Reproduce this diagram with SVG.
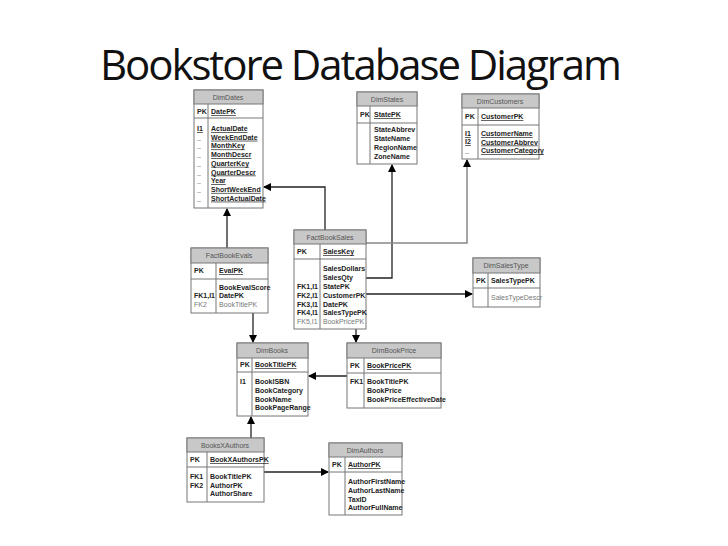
<svg xmlns="http://www.w3.org/2000/svg" width="728" height="546" viewBox="0 0 728 546">
<style>
.box{fill:#fff;stroke:#777;stroke-width:1}
.hd{fill:#c8c8c8;stroke:#777;stroke-width:1}
.ln{stroke:#777;stroke-width:1}
text{font-family:"Liberation Sans",Arial,sans-serif;font-size:7px}
.h{fill:#555;text-anchor:middle}
.b{font-weight:bold;fill:#222}
.g{fill:#777}
.u{text-decoration:underline}
.c{fill:none;stroke:#222;stroke-width:1.3}
.cg{fill:none;stroke:#888;stroke-width:1.5}
</style>
<defs>
<marker id="a" markerWidth="8" markerHeight="8" refX="7" refY="4" orient="auto" markerUnits="userSpaceOnUse"><path d="M0,0 L8,4 L0,8 z" fill="#000"/></marker>
</defs>
<rect width="728" height="546" fill="#fff"/>
<text x="100" y="80" style="font-family:'Open Sans','Liberation Sans',sans-serif;font-size:42px" textLength="522" fill="#111">Bookstore Database Diagram</text>

<g id="connectors">
<path class="c" d="M325,230 V187 H264" marker-end="url(#a)"/>
<path class="c" d="M366,278 H392 V165" marker-end="url(#a)"/>
<path class="cg" d="M366,243 H467 V160" marker-end="url(#a)"/>
<path class="c" d="M366,294 H472" marker-end="url(#a)"/>
<path class="c" d="M227,248 V209" marker-end="url(#a)"/>
<path class="c" d="M253,313 V342" marker-end="url(#a)"/>
<path class="c" d="M356,329 V342" marker-end="url(#a)"/>
<path class="c" d="M347,376 H309" marker-end="url(#a)"/>
<path class="c" d="M251,438 V417" marker-end="url(#a)"/>
<path class="c" d="M264,472 H328" marker-end="url(#a)"/>
</g>

<g id="DimDates">
<rect class="box" x="194" y="90" width="69" height="118"/><rect class="hd" x="194" y="90" width="69" height="14"/>
<line class="ln" x1="194" y1="118" x2="263" y2="118"/><line class="ln" x1="208" y1="104" x2="208" y2="208"/>
<text class="h" x="228" y="99.5">DimDates</text>
<text class="b" x="197" y="114">PK</text><text class="b u" x="211" y="114">DatePK</text>
<text class="b u" x="197" y="131">I1</text>
<text class="b u"><tspan x="211" y="131">ActualDate</tspan><tspan x="211" y="139.7">WeekEndDate</tspan><tspan x="211" y="148.4">MonthKey</tspan><tspan x="211" y="157.1">MonthDescr</tspan><tspan x="211" y="165.8">QuarterKey</tspan><tspan x="211" y="174.5">QuarterDescr</tspan><tspan x="211" y="183.2">Year</tspan><tspan x="211" y="191.9">ShortWeekEnd</tspan><tspan x="211" y="200.6">ShortActualDate</tspan></text>
<text class="b"><tspan x="197" y="139.7">_</tspan><tspan x="197" y="148.4">_</tspan><tspan x="197" y="157.1">_</tspan><tspan x="197" y="165.8">_</tspan><tspan x="197" y="174.5">_</tspan><tspan x="197" y="183.2">_</tspan><tspan x="197" y="191.9">_</tspan><tspan x="197" y="200.6">_</tspan></text>
</g>

<g id="DimStates">
<rect class="box" x="357" y="92" width="60" height="72"/><rect class="hd" x="357" y="92" width="60" height="14"/>
<line class="ln" x1="357" y1="123" x2="417" y2="123"/><line class="ln" x1="370" y1="106" x2="370" y2="164"/>
<text class="h" x="387" y="101.5">DimStates</text>
<text class="b" x="360" y="117">PK</text><text class="b u" x="374" y="117">StatePK</text>
<text class="b"><tspan x="374" y="132">StateAbbrev</tspan><tspan x="374" y="141">StateName</tspan><tspan x="374" y="150">RegionName</tspan><tspan x="374" y="159">ZoneName</tspan></text>
</g>

<g id="DimCustomers">
<rect class="box" x="462" y="94" width="77" height="65"/><rect class="hd" x="462" y="94" width="77" height="14"/>
<line class="ln" x1="462" y1="125" x2="539" y2="125"/><line class="ln" x1="478" y1="108" x2="478" y2="159"/>
<text class="h" x="500" y="103.5">DimCustomers</text>
<text class="b" x="465" y="119">PK</text><text class="b u" x="481" y="119">CustomerPK</text>
<text class="b u"><tspan x="465" y="136">I1</tspan><tspan x="465" y="144">I2</tspan></text><text class="b" x="465" y="153">_</text>
<text class="b u"><tspan x="481" y="136">CustomerName</tspan><tspan x="481" y="144.5">CustomerAbbrev</tspan><tspan x="481" y="153">CustomerCategory</tspan></text>
</g>

<g id="FactBookSales">
<rect class="box" x="294" y="230" width="72" height="99"/><rect class="hd" x="294" y="230" width="72" height="14"/>
<line class="ln" x1="294" y1="259" x2="366" y2="259"/><line class="ln" x1="320" y1="244" x2="320" y2="329"/>
<text class="h" x="330" y="239.5">FactBookSales</text>
<text class="b" x="297" y="254">PK</text><text class="b u" x="323" y="254">SalesKey</text>
<text class="b"><tspan x="323" y="271">SalesDollars</tspan><tspan x="323" y="280">SalesQty</tspan><tspan x="323" y="289">StatePK</tspan><tspan x="323" y="298">CustomerPK</tspan><tspan x="323" y="306.5">DatePK</tspan><tspan x="323" y="315">SalesTypePK</tspan></text>
<text class="b"><tspan x="297" y="289">FK1,I1</tspan><tspan x="297" y="298">FK2,I1</tspan><tspan x="297" y="306.5">FK3,I1</tspan><tspan x="297" y="315">FK4,I1</tspan></text>
<text class="g" x="297" y="324">FK5,I1</text><text class="g" x="323" y="324">BookPricePK</text>
</g>

<g id="DimSalesType">
<rect class="box" x="473" y="258" width="67" height="49"/><rect class="hd" x="473" y="258" width="67" height="15"/>
<line class="ln" x1="473" y1="288" x2="540" y2="288"/><line class="ln" x1="488" y1="273" x2="488" y2="307"/>
<text class="h" x="506" y="268">DimSalesType</text>
<text class="b" x="476" y="283">PK</text><text class="b" x="491" y="283">SalesTypePK</text>
<text class="g" x="491" y="300">SalesTypeDescr</text>
</g>

<g id="FactBookEvals">
<rect class="box" x="191" y="248" width="77" height="65"/><rect class="hd" x="191" y="248" width="77" height="15"/>
<line class="ln" x1="191" y1="279" x2="268" y2="279"/><line class="ln" x1="216" y1="263" x2="216" y2="313"/>
<text class="h" x="229" y="258">FactBookEvals</text>
<text class="b" x="194" y="273">PK</text><text class="b u" x="219" y="273">EvalPK</text>
<text class="b" x="219" y="290">BookEvalScore</text>
<text class="b" x="194" y="298">FK1,I1</text><text class="b" x="219" y="298">DatePK</text>
<text class="g" x="194" y="307">FK2</text><text class="g" x="219" y="307">BookTitlePK</text>
</g>

<g id="DimBooks">
<rect class="box" x="237" y="343" width="71" height="73"/><rect class="hd" x="237" y="343" width="71" height="15"/>
<line class="ln" x1="237" y1="372" x2="308" y2="372"/><line class="ln" x1="252" y1="358" x2="252" y2="416"/>
<text class="h" x="272" y="353">DimBooks</text>
<text class="b" x="240" y="367">PK</text><text class="b u" x="255" y="367">BookTitlePK</text>
<text class="b" x="240" y="384">I1</text>
<text class="b"><tspan x="255" y="384">BookISBN</tspan><tspan x="255" y="393">BookCategory</tspan><tspan x="255" y="402">BookName</tspan><tspan x="255" y="410">BookPageRange</tspan></text>
</g>

<g id="DimBookPrice">
<rect class="box" x="347" y="343" width="94" height="65"/><rect class="hd" x="347" y="343" width="94" height="15"/>
<line class="ln" x1="347" y1="373" x2="441" y2="373"/><line class="ln" x1="364" y1="358" x2="364" y2="408"/>
<text class="h" x="394" y="353">DimBookPrice</text>
<text class="b" x="350" y="368">PK</text><text class="b u" x="367" y="368">BookPricePK</text>
<text class="b" x="350" y="384">FK1</text>
<text class="b"><tspan x="367" y="384">BookTitlePK</tspan><tspan x="367" y="393">BookPrice</tspan><tspan x="367" y="402">BookPriceEffectiveDate</tspan></text>
</g>

<g id="BooksXAuthors">
<rect class="box" x="187" y="438" width="77" height="64"/><rect class="hd" x="187" y="438" width="77" height="14"/>
<line class="ln" x1="187" y1="467" x2="264" y2="467"/><line class="ln" x1="207" y1="452" x2="207" y2="502"/>
<text class="h" x="225" y="447.5">BooksXAuthors</text>
<text class="b" x="190" y="462">PK</text><text class="b u" x="210" y="462">BookXAuthorsPK</text>
<text class="b"><tspan x="190" y="479">FK1</tspan><tspan x="190" y="487.5">FK2</tspan></text>
<text class="b"><tspan x="210" y="479">BookTitlePK</tspan><tspan x="210" y="487.5">AuthorPK</tspan><tspan x="210" y="496">AuthorShare</tspan></text>
</g>

<g id="DimAuthors">
<rect class="box" x="329" y="443" width="73" height="72"/><rect class="hd" x="329" y="443" width="73" height="14"/>
<line class="ln" x1="329" y1="472" x2="402" y2="472"/><line class="ln" x1="345" y1="457" x2="345" y2="515"/>
<text class="h" x="365" y="452.5">DimAuthors</text>
<text class="b" x="332" y="467">PK</text><text class="b u" x="348" y="467">AuthorPK</text>
<text class="b"><tspan x="348" y="484">AuthorFirstName</tspan><tspan x="348" y="493">AuthorLastName</tspan><tspan x="348" y="502">TaxID</tspan><tspan x="348" y="510">AuthorFullName</tspan></text>
</g>
</svg>
